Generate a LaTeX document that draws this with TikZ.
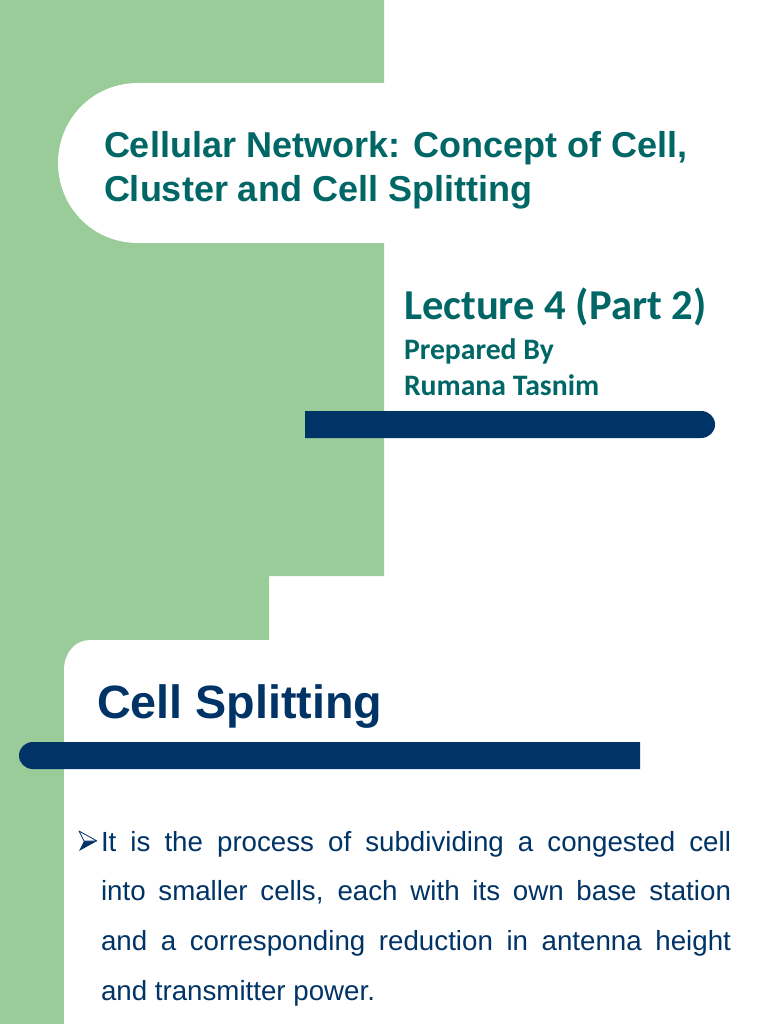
\documentclass[tikz,border=0pt]{standalone}
\usepackage{fontspec}
\setmainfont{Liberation Sans}
\newfontfamily\carlito{Carlito}
\definecolor{slidegreen}{HTML}{99CC99}
\definecolor{tealtext}{HTML}{006666}
\definecolor{navy}{HTML}{003366}
\tikzset{
  txt/.style={inner sep=0pt,outer sep=0pt,anchor=base west},
  titletxt/.style={txt,text=tealtext,font=\fontsize{36}{36}\selectfont\bfseries},
  lecttxt/.style={txt,text=tealtext,font=\carlito\fontsize{42.6}{42.6}\selectfont\bfseries},
  subtxt/.style={txt,text=tealtext,font=\carlito\fontsize{29.7}{29.7}\selectfont\bfseries},
  headtxt/.style={txt,text=navy,font=\fontsize{46.7}{46.7}\selectfont\bfseries},
  bodytxt/.style={txt,text=navy,font=\fontsize{27.7}{27.7}\selectfont},
}
\begin{document}
\begin{tikzpicture}[x=1pt,y=-1pt]
\useasboundingbox (0,0) rectangle (768,1024);
\fill[white] (0,0) rectangle (768,1024);
% green backdrop
\fill[slidegreen] (0,0) -- (384,0) -- (384,576) -- (269,576) -- (269,672) -- (64,672) -- (64,1024) -- (0,1024) -- cycle;
% white title pill and lower panel
\fill[white] (390,83) -- (138,83) .. controls (92,83) and (58,120) .. (58,163) .. controls (58,206) and (92,243) .. (138,243) -- (390,243) -- cycle;
\fill[white] (64,1024) -- (64,670) .. controls (64,653) and (75,640) .. (90,640) -- (275,640) -- (275,1024) -- cycle;
% bars
\fill[navy] (305,411) -- (701,411) .. controls (709,411) and (715,417) .. (715,424.5) .. controls (715,432) and (709,438) .. (701,438) -- (305,438) -- cycle;
\fill[navy] (640,742) -- (33,742) .. controls (25,742) and (19,748) .. (19,755.5) .. controls (19,763) and (25,769) .. (33,769) -- (640,769) -- cycle;
% text
\node[titletxt] (t1) at (104,158) {Cellular Network: Concept of Cell,};
\node[titletxt] (t2) at (104,202) {Cluster and Cell Splitting};
\node[lecttxt] (l1) at (404,319) {Lecture 4 (Part 2)};
\node[subtxt] (l2) at (404,359) {Prepared By};
\node[subtxt] (l3) at (404,395) {Rumana Tasnim};
\node[headtxt] (h) at (97,718) {Cell Splitting};
% bullet arrowhead
\fill[navy] (79,851) -- (97,841) -- (84,841) -- cycle;
\draw[navy,line width=0.8pt,line join=round,fill=white] (79,831) -- (97,841) -- (84,841) -- cycle;
\node[bodytxt] (b1) at (101,851) {\makebox[630pt][s]{It is the process of subdividing a congested cell}};
\node[bodytxt] (b2) at (101,900) {\makebox[630pt][s]{into smaller cells, each with its own base station}};
\node[bodytxt] (b3) at (101,950) {\makebox[630pt][s]{and a corresponding reduction in antenna height}};
\node[bodytxt] (b4) at (101,1000) {and transmitter power.};
\end{tikzpicture}
\end{document}
